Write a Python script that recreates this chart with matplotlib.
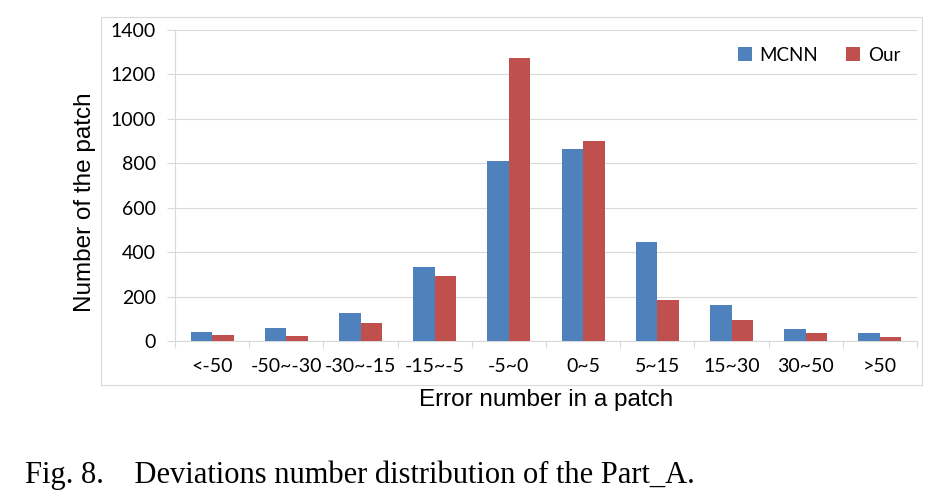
import matplotlib
matplotlib.use("Agg")
import matplotlib.pyplot as plt
import numpy as np
from matplotlib.patches import Rectangle

# values
categories = ["<-50", "-50~-30", "-30~-15", "-15~-5", "-5~0",
              "0~5", "5~15", "15~30", "30~50", ">50"]
mcnn = [42, 60, 125, 335, 810, 863, 446, 161, 56, 35]
ours = [28, 22, 82, 293, 1272, 902, 183, 93, 35, 17]

BLUE = "#4F81BD"
RED = "#C0504D"
GRID = "#D9D9D9"

plt.rcParams["font.family"] = ["Lato", "DejaVu Sans"]

fig = plt.figure(figsize=(9.38, 5.04), dpi=100)
fig.patch.set_facecolor("white")

# light chart-area border
fig.patches.append(Rectangle((101 / 938, 1 - 385 / 504), (922 - 101) / 938,
                             (385 - 17) / 504, transform=fig.transFigure,
                             fill=False, ec=GRID, lw=0.8))

ax = fig.add_axes([175 / 938, 1 - 341 / 504, (917 - 175) / 938, (341 - 30) / 504])

x = np.arange(len(categories))
w = 0.29
ax.bar(x - w / 2, mcnn, w, color=BLUE, label="MCNN", zorder=3)
ax.bar(x + w / 2, ours, w, color=RED, label="Our", zorder=3)

ax.set_xlim(-0.5, len(categories) - 0.5)
ax.set_ylim(0, 1400)
ax.set_yticks(np.arange(0, 1401, 200))
ax.yaxis.grid(True, color=GRID, lw=0.8, zorder=0)
ax.set_axisbelow(True)

for s in ("top", "right"):
    ax.spines[s].set_visible(False)
ax.spines["left"].set_color(GRID)
ax.spines["bottom"].set_color(GRID)

ax.tick_params(axis="y", length=5.8, color=GRID, pad=8, labelsize=14)
# category boundary ticks on the x axis
ax.set_xticks(np.arange(-0.5, len(categories), 1.0))
ax.set_xticklabels([])
ax.set_xticks(x, minor=True)
ax.set_xticklabels(categories, minor=True)
ax.tick_params(axis="x", which="major", length=5, color=GRID)
ax.tick_params(axis="x", which="minor", length=0, pad=12, labelsize=14)

ax.set_ylabel("Number of the patch", fontsize=17.5, family="Liberation Sans",
              va="center")
ax.yaxis.set_label_coords(-0.121, 0.447)
ax.set_xlabel("Error number in a patch", fontsize=17.5, family="Liberation Sans",
              va="center")
ax.xaxis.set_label_coords(0.5, -0.19)

ax.legend(loc="upper right", bbox_to_anchor=(1.0, 1.0), ncol=2, frameon=False,
          fontsize=13.5, handlelength=0.75, handleheight=0.75, columnspacing=1.5,
          handletextpad=0.4)

fig.text(25 / 938, 1 - 483 / 504, "Fig. 8.    Deviations number distribution of the Part_A.",
         family="Liberation Serif", fontsize=22, va="baseline", ha="left")

fig.savefig("out.png", dpi=100, facecolor="white")
